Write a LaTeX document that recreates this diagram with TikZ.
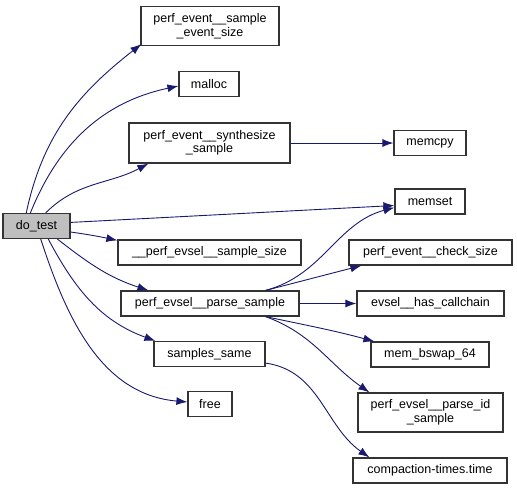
\documentclass[tikz,border=0pt]{standalone}
\usepackage{fontspec}
\setmainfont{Liberation Sans}
\usetikzlibrary{arrows.meta}

\begin{document}
\begin{tikzpicture}[x=1pt,y=-1pt, every node/.style={draw=black!80,line width=1.2pt,font=\fontsize{12.5}{13.5}\selectfont,align=center,minimum height=25pt,inner sep=1pt}, >={Latex[length=11pt,width=8pt]}, call/.style={->,color={rgb,255:red,25;green,25;blue,112},line width=0.9pt}]
\useasboundingbox (0,0) rectangle (517,490);
\node (dotest) at (36.5,226) [fill=black!25,minimum width=67pt] {do\_test};
\node (sev) at (210,26) [minimum width=138pt,minimum height=39pt] {perf\_event\_\_sample\\\_event\_size};
\node (malloc) at (209,84) [minimum width=60pt] {malloc};
\node (synth) at (209.5,143) [minimum width=161pt,minimum height=40pt] {perf\_event\_\_synthesize\\\_sample};
\node (ssize) at (209.5,252.5) [minimum width=183pt] {\_\_perf\_evsel\_\_sample\_size};
\node (parse) at (210,303.5) [minimum width=178pt] {perf\_evsel\_\_parse\_sample};
\node (same) at (209.5,354) [minimum width=111pt] {samples\_same};
\node (free) at (210,404) [minimum width=44pt] {free};
\node (memcpy) at (430,143) [minimum width=72pt] {memcpy};
\node (memset) at (430,201.5) [minimum width=70pt] {memset};
\node (check) at (430.5,252.5) [minimum width=163pt] {perf\_event\_\_check\_size};
\node (chain) at (430.5,303.5) [minimum width=147pt] {evsel\_\_has\_callchain};
\node (bswap) at (430,354.5) [minimum width=118pt] {mem\_bswap\_64};
\node (idsample) at (430.5,412.5) [minimum width=145pt,minimum height=39pt] {perf\_evsel\_\_parse\_id\\\_sample};
\node (ctime) at (430,470.5) [minimum width=154pt] {compaction-times.time};
% calls from do_test
\draw[call] (dotest.128) to[out=78,in=218] ([xshift=1pt,yshift=2pt]sev.south west);
\draw[call] (dotest.115) to[out=68,in=192] ([yshift=-2pt]malloc.west);
\draw[call] (dotest.55) to[out=45,in=208] ([xshift=20pt]synth.south west);
\draw[call] (dotest.6) -- ([yshift=-4pt]memset.west);
\draw[call] (dotest.-10) to[out=-8,in=168] ([yshift=-1pt]ssize.north west);
\draw[call] (dotest.-32) to[out=-38,in=162] ([xshift=28pt]parse.north west);
\draw[call] (dotest.-48) to[out=-62,in=160] ([xshift=2pt]same.north west);
\draw[call] (dotest.-72) to[out=-72,in=175] ([yshift=2pt]free.west);
% calls further down
\draw[call] (synth) -- (memcpy);
\draw[call] ([xshift=-34pt]parse.north east) to[out=15,in=195] ([yshift=-6pt]memset.west);
\draw[call] ([xshift=-34pt]parse.north east) -- ([xshift=13pt]check.south west);
\draw[call] (parse) -- (chain);
\draw[call] ([xshift=-34pt]parse.south east) to[out=-12,in=165] ([xshift=4pt]bswap.north west);
\draw[call] ([xshift=-34pt]parse.south east) to[out=-20,in=145] ([xshift=12pt]idsample.north west);
\draw[call] ([yshift=4pt]same.south east) to[out=-8,in=145] ([xshift=17pt]ctime.north west);
\end{tikzpicture}
\end{document}
